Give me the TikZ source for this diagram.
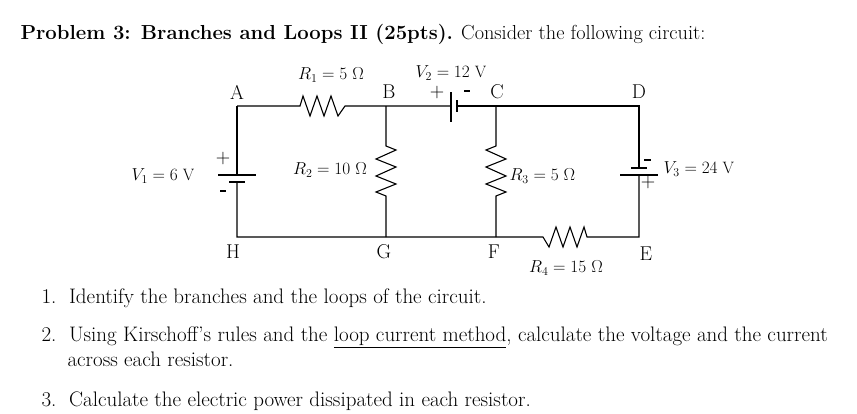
\documentclass[tikz,border=0pt]{standalone}
\begin{document}
\begin{tikzpicture}[x=1pt,y=-1pt,
 w/.style={line width=1.1pt},
 pl/.style={font=\fontsize{20}{24}\selectfont},
 pm/.style={font=\fontsize{20}{24}\selectfont},
 mn/.style={line width=2.2pt},
 lbl/.style={font=\fontsize{16.5}{20}\selectfont},
 txt/.style={anchor=west,font=\fontsize{21}{25}\selectfont}]
\useasboundingbox (0,0) rectangle (857,413);
\coordinate (A) at (237,106); \coordinate (B) at (386,106);
\coordinate (C) at (496,106); \coordinate (D) at (639,106);
\coordinate (E) at (639,237); \coordinate (F) at (496,237);
\coordinate (G) at (386,237); \coordinate (H) at (237,237);
% wires
\draw[w] (A) -- (300,106) -- (303,96) -- (310,116) -- (317,96) -- (324,116) -- (331,96) -- (338,116) -- (345,106) -- (B) -- (451,106);
\draw[w] (457,106) -- (C) -- (D) -- (639,168);
\draw[w] (639,175) -- (E) -- (587,237) -- (584,227) -- (577,247) -- (570,227) -- (563,247) -- (556,227) -- (549,247) -- (543,237) -- (F) -- (G) -- (H) -- (237,182);
\draw[w] (237,175) -- (A);
\draw[w] (B) -- (386,146) -- (396,150) -- (376,159) -- (396,167) -- (376,176) -- (396,184) -- (376,192) -- (386,196) -- (G);
\draw[w] (C) -- (496,146) -- (486,150) -- (506,159) -- (486,167) -- (506,176) -- (486,184) -- (506,192) -- (496,196) -- (F);
% batteries
\draw[w] (451,92) -- (451,122); \draw[line width=2.6pt] (457,100) -- (457,112);
\draw[w] (218,175) -- (256,175); \draw[line width=2.6pt] (229,182) -- (245,182);
\draw[w] (620,175) -- (658,175); \draw[line width=2.6pt] (631,168) -- (647,168);
\node[pm] at (437,93) {+}; \draw[mn] (464,91) -- (470,91);
\node[pm] at (223,159) {+}; \draw[mn] (220,191) -- (226,191);
\draw[mn] (644,160) -- (651,160); \node[pm] at (648,183) {+};
% node letters
\node[pl] (nA) at (237,92) {A}; \node[pl] (nB) at (389,92) {B};
\node[pl] (nC) at (497,92) {C}; \node[pl] (nD) at (639,92) {D};
\node[pl] (nH) at (233,252) {H}; \node[pl] (nG) at (384,252) {G};
\node[pl] (nF) at (494,252) {F}; \node[pl] (nE) at (646,254) {E};
% labels
\node[lbl] (l1) at (331,75) {$R_1 = 5\ \Omega$};
\node[lbl] (l2) at (451,73) {$V_2 = 12$ V};
\node[lbl] (l3) at (330,170) {$R_2 = 10\ \Omega$};
\node[lbl,anchor=west] (l4) at (506,176) {$R_3 = 5\ \Omega$};
\node[lbl,anchor=west] (l5) at (660,169) {$V_3 = 24$ V};
\node[lbl] (l6) at (163,176) {$V_1 = 6$ V};
\node[lbl] (l7) at (566,268) {$R_4 = 15\ \Omega$};
% text
\node[txt,font=\fontsize{20.3}{24}\selectfont] (t0) at (17,34) {\textbf{Problem 3: Branches and Loops II (25pts).} Consider the following circuit:};
\node[txt] (t1) at (38,298) {1.\ \ Identify the branches and the loops of the circuit.};
\node[txt] (t2) at (38,337) {2.\ \ Using Kirschoff's rules and the \underline{loop current method}, calculate the voltage and the current};
\node[txt] (t2b) at (64,359) {across each resistor.};
\node[txt] (t3) at (38,401) {3.\ \ Calculate the electric power dissipated in each resistor.};
\end{tikzpicture}
\end{document}
